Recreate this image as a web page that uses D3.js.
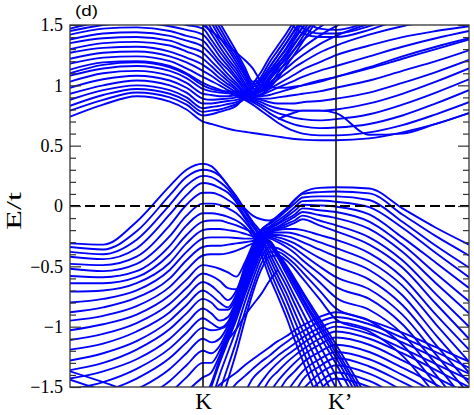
<!DOCTYPE html>
<html>
<head>
<meta charset="utf-8">
<script src="https://cdn.jsdelivr.net/npm/d3@7"></script>
<style>
  body { margin: 0; background: #fff; }
  text { font-family: "Liberation Serif", "Times New Roman", serif; fill: #000; }
</style>
</head>
<body>
<svg id="chart" width="474" height="415"></svg>
<script>
const _ = null;

// k along the path, 0..1 (K at 1/3, K' at 2/3)
const kGrid = [0, 0.083, 0.167, 0.25, 0.292, 0.333, 0.354, 0.375, 0.396, 0.417, 0.438, 0.458,
               0.479, 0.5, 0.521, 0.542, 0.563, 0.583, 0.625, 0.667, 0.75, 0.833, 0.917, 1];

const kPoints = [1 / 3, 2 / 3];
const kLabels = ["K", "K\u2019"];
const yTicks = [-1.5, -1, -0.5, 0, 0.5, 1, 1.5];
const yTickLabels = ["\u22121.5", "\u22121", "\u22120.5", "0", "0.5", "1", "1.5"];

// valence bands peaking at K that run through the crossing below K
const valenceTop = [
  [-0.31,-0.32,-0.13,0.165,0.30,0.35, 0.33,0.26,0.17,0.07,-0.02,-0.08,-0.11, -0.12,-0.09,-0.03,0.05,0.11, 0.15,0.155,0.145,-0.02,-0.18,-0.32],
  [-0.34,-0.36,-0.21,0.09,0.24,0.30, 0.29,0.25,0.17,0.08,-0.03,-0.13,-0.22, -0.35,-0.48,-0.61,-0.75,-0.88, -1.15,-1.41,-1.95,_,_,_],
  [-0.38,-0.40,-0.28,0.01,0.17,0.25, 0.24,0.20,0.14,0.05,-0.05,-0.15,-0.25, -0.39,-0.53,-0.66,-0.81,-0.95, -1.24,-1.51,_,_,_,_],
  [-0.42,-0.44,-0.35,-0.07,0.09,0.19, 0.18,0.15,0.11,0.03,-0.08,-0.17,-0.27, -0.43,-0.58,-0.72,-0.88,-1.03, -1.33,-1.62,_,_,_,_],
  [-0.48,-0.49,-0.42,-0.16,0.01,0.11, 0.11,0.09,0.05,0.00,-0.10,-0.20,-0.31, -0.48,-0.63,-0.78,-0.95,-1.11, -1.43,-1.73,_,_,_,_],
  [-0.52,-0.54,-0.48,-0.25,-0.08,0.02, 0.02,0.01,-0.02,-0.06,-0.13,-0.22,-0.35, -0.53,-0.69,-0.85,-1.03,-1.19, -1.53,-1.85,_,_,_,_],
  [-0.58,-0.59,-0.54,-0.33,-0.16,-0.06, -0.06,-0.07,-0.09,-0.12,-0.17,-0.25,-0.40, -0.59,-0.75,-0.92,-1.11,-1.28, -1.63,-1.97,_,_,_,_],
  [-0.64,-0.64,-0.59,-0.40,-0.24,-0.13, -0.12,-0.12,-0.14,-0.16,-0.19,-0.22,-0.25, -0.32,-0.43,-0.56,-0.69,-0.81, -1.07,-1.31,-1.82,_,_,_],
  [-0.71,-0.70,-0.64,-0.47,-0.31,-0.20, -0.19,-0.19,-0.20,-0.21,-0.23,-0.25,-0.26, -0.30,-0.42,-0.53,-0.66,-0.78, -1.02,-1.26,-1.75,_,_,_],
  [-0.80,-0.77,-0.70,-0.53,-0.38,-0.27, -0.26,-0.26,-0.26,-0.265,-0.27,-0.27,-0.27, -0.29,-0.40,-0.52,-0.64,-0.76, -0.99,-1.22,-1.70,_,_,_],
  [-0.88,-0.84,-0.76,-0.60,-0.45,-0.34, -0.33,-0.33,-0.32,-0.31,-0.30,-0.29,-0.28, -0.29,-0.39,-0.50,-0.62,-0.73, -0.96,-1.19,-1.66,_,_,_],
  [-0.95,-0.91,-0.83,-0.67,-0.53,-0.41, -0.40,-0.40,-0.39,-0.37,-0.34,-0.31,-0.29, -0.30,-0.39,-0.49,-0.60,-0.71, -0.93,-1.15,-1.62,_,_,_]
];

// deeper valence bands: dip, climb through the crossing, then fall past K'
const valenceLow = [
  [-1.03,-0.98,-0.90,-0.74,-0.61,-0.49, -0.50,-0.52,-0.55,-0.585,-0.47,-0.32,-0.20, -0.14,-0.08,-0.02,0.05,0.10, 0.115,0.12,0.105,-0.07,-0.25,-0.41],
  [-1.11,-1.06,-0.97,-0.81,-0.68,-0.56, -0.58,-0.62,-0.68,-0.69,-0.50,-0.34,-0.20, -0.15,-0.10,-0.04,0.02,0.07, 0.08,0.08,0.05,-0.13,-0.33,-0.51],
  [-1.19,-1.14,-1.04,-0.88,-0.75,-0.63, -0.66,-0.72,-0.78,-0.70,-0.52,-0.36,-0.21, -0.17,-0.12,-0.07,-0.01,0.04, 0.045,0.035,-0.01,-0.18,-0.39,-0.59],
  [-1.28,-1.22,-1.12,-0.95,-0.82,-0.70, -0.74,-0.80,-0.84,-0.73,-0.54,-0.38,-0.22, -0.18,-0.14,-0.09,-0.04,0.01, 0.005,-0.005,-0.07,-0.26,-0.47,-0.68],
  [-1.36,-1.30,-1.19,-1.02,-0.89,-0.77, -0.80,-0.86,-0.86,-0.76,-0.57,-0.40,-0.24, -0.19,-0.15,-0.11,-0.07,-0.02, -0.035,-0.05,-0.13,-0.32,-0.56,-0.79],
  [-1.43,-1.37,-1.27,-1.10,-0.97,-0.85, -0.89,-0.95,-0.92,-0.78,-0.59,-0.43,-0.25, -0.20,-0.17,-0.13,-0.09,-0.05, -0.075,-0.10,-0.19,-0.38,-0.64,-0.89],
  [-1.52,-1.46,-1.35,-1.18,-1.05,-0.93, -0.97,-1.01,-0.96,-0.80,-0.61,-0.44,-0.27, -0.21,-0.18,-0.15,-0.12,-0.08, -0.12,-0.16,-0.26,-0.45,-0.73,-1.00],
  [-1.60,-1.54,-1.43,-1.26,-1.13,-1.01, -1.03,-1.02,-0.98,-0.81,-0.63,-0.46,-0.28, -0.22,-0.19,-0.17,-0.14,-0.11, -0.16,-0.21,-0.32,-0.51,-0.81,-1.10],
  [-1.70,-1.63,-1.52,-1.35,-1.22,-1.10, -1.13,-1.10,-0.99,-0.82,-0.64,-0.47,-0.30, -0.22,-0.20,-0.19,-0.19,-0.20, -0.24,-0.28,-0.39,-0.59,-0.90,-1.19],
  [-1.80,-1.73,-1.62,-1.45,-1.32,-1.20, -1.22,-1.16,-1.02,-0.85,-0.66,-0.49,-0.32, -0.23,-0.22,-0.22,-0.23,-0.25, -0.30,-0.35,-0.46,-0.66,-0.98,-1.29],
  [-1.90,-1.83,-1.72,-1.55,-1.42,-1.30, -1.30,-1.20,-1.04,-0.87,-0.68,-0.51,-0.33, -0.24,-0.24,-0.25,-0.27,-0.30, -0.36,-0.42,-0.53,-0.74,-1.07,-1.38],
  [-2.0,-1.93,-1.82,-1.66,-1.54,-1.42, -1.38,-1.24,-1.07,-0.90,-0.70,-0.53,-0.35, -0.25,-0.26,-0.28,-0.31,-0.35, -0.43,-0.50,-0.61,-0.82,-1.15,-1.47],
  [_,_,_,_,-1.75,-1.60, -1.47,-1.27,-1.09,-0.92,-0.72,-0.55,-0.37, -0.26,-0.28,-0.31,-0.35,-0.40, -0.50,-0.59,-0.69,-0.90,-1.23,-1.56],
  [_,_,_,_,-1.85,-1.68, -1.50,-1.30,-1.12,-0.94,-0.74,-0.56,-0.39, -0.27,-0.30,-0.34,-0.39,-0.45, -0.56,-0.67,-0.77,-0.98,-1.31,-1.65],
  [_,_,_,_,_,_, -1.62,-1.40,-1.21,-1.02,-0.80,-0.61,-0.43, -0.34,-0.35,-0.39,-0.44,-0.50, -0.63,-0.76,-0.86,-1.06,-1.40,-1.74],
  [_,_,_,_,_,_, -1.80,-1.54,-1.33,-1.12,-0.88,-0.67,-0.48, -0.38,-0.38,-0.42,-0.48,-0.55, -0.70,-0.85,-0.95,-1.15,-1.48,-1.83],
  [_,_,_,_,_,_, -1.95,-1.68,-1.44,-1.21,-0.95,-0.72,-0.53, -0.42,-0.41,-0.45,-0.52,-0.60, -0.77,-0.94,-1.04,-1.24,-1.57,-1.92]
];

// arcs near K' at the bottom, plus a few short pieces
const valenceBottom = [
  [_,_,_,_,_,_, -1.56,-1.48,-1.43,-1.38,-1.32,-1.27,-1.22, -1.17,-1.12,-1.08,-1.03,-0.99, -0.92,-0.88,-0.95,-1.05,-1.17,-1.29],
  [_,_,_,_,_,_, _,_,-1.56,-1.47,-1.41,-1.35,-1.29, -1.24,-1.18,-1.13,-1.08,-1.04, -0.96,-0.92,-0.98,-1.09,-1.21,-1.34],
  [_,_,_,_,_,_, _,_,_,_,-1.55,-1.43,-1.36, -1.30,-1.24,-1.19,-1.14,-1.09, -1.01,-0.96,-1.02,-1.13,-1.26,-1.39],
  [_,_,_,_,_,_, _,_,_,_,_,-1.56,-1.46, -1.37,-1.30,-1.24,-1.19,-1.14, -1.05,-1.00,-1.06,-1.18,-1.31,-1.44],
  [_,_,_,_,_,_, _,_,_,_,_,_,-1.56, -1.44,-1.37,-1.30,-1.24,-1.19, -1.10,-1.04,-1.10,-1.22,-1.36,-1.50],
  [_,_,_,_,_,_, _,_,_,_,_,_,_, -1.55,-1.45,-1.37,-1.30,-1.24, -1.15,-1.09,-1.15,-1.28,-1.42,-1.56],
  [_,_,_,_,_,_, _,_,_,_,_,_,_, _,-1.55,-1.44,-1.37,-1.30, -1.21,-1.15,-1.21,-1.34,-1.48,-1.62],
  [_,_,_,_,_,_, _,_,_,_,_,_,_, _,_,-1.55,-1.45,-1.37, -1.27,-1.21,-1.27,-1.40,-1.55,_],
  [_,_,_,_,_,_, _,_,_,_,_,_,_, _,_,_,-1.55,-1.44, -1.33,-1.26,-1.33,-1.46,-1.60,_],
  [_,_,_,_,_,_, _,_,_,_,_,_,_, _,_,_,_,-1.52, -1.39,-1.32,-1.39,-1.53,_,_],
  [_,_,_,_,_,_, _,_,_,_,_,_,_, _,_,_,_,-1.60, -1.46,-1.38,-1.45,-1.60,_,_],
  [_,_,_,_,_,_, _,_,_,_,_,_,_, _,_,_,_,_, -1.53,-1.43,-1.50,-1.65,_,_],
  [_,_,_,_,_,_, _,-1.20,-1.11,-1.02,-0.91,-0.82,-0.73, -0.62,-0.53,_,_,_, _,_,_,_,_,_],
  [-1.37,-1.46,-1.56,_,_,_, _,_,_,_,_,_,_, _,_,_,_,_, _,_,_,_,_,_],
  [-1.44,-1.53,_,_,_,_, _,_,_,_,_,_,_, _,_,_,_,_, _,_,_,_,_,_]
];

// lowest conduction band and the bands climbing steeply after K
const conductionLow = [
  [0.74,0.84,0.91,0.865,0.80,0.70, 0.68,0.66,0.64,0.625,0.615,0.605,0.595, 0.585,0.575,0.565,0.555,0.55, 0.545,0.545,0.56,0.61,0.68,0.77],
  [0.79,0.88,0.94,0.90,0.84,0.75, 0.76,0.78,0.80,0.83,0.91,1.01,1.11, 1.23,1.33,1.43,1.54,1.65, _,_,_,_,_,_],
  [0.83,0.92,0.97,0.93,0.87,0.78, 0.79,0.80,0.82,0.845,0.89,0.98,1.07, 1.19,1.29,1.39,1.50,1.60, _,_,_,_,_,_],
  [0.88,0.96,1.00,0.96,0.90,0.81, 0.82,0.83,0.845,0.86,0.895,0.94,1.04, 1.15,1.25,1.35,1.46,1.56, 1.78,_,_,_,_,_],
  [0.93,1.00,1.04,1.00,0.94,0.85, 0.85,0.86,0.87,0.88,0.90,0.93,1.00, 1.11,1.21,1.31,1.42,1.52, 1.73,_,_,_,_,_],
  [0.98,1.05,1.08,1.04,0.98,0.89, 0.88,0.885,0.89,0.90,0.915,0.935,0.96, 1.07,1.17,1.27,1.38,1.48, 1.69,_,_,_,_,_],
  [1.03,1.10,1.12,1.08,1.02,0.93, 0.92,0.91,0.91,0.92,0.93,0.94,0.95, 1.04,1.14,1.24,1.34,1.44, 1.65,_,_,_,_,_],
  [1.08,1.14,1.16,1.12,1.06,0.97, 0.95,0.94,0.935,0.935,0.94,0.945,0.95, 1.00,1.10,1.20,1.30,1.40, 1.61,_,_,_,_,_],
  [1.10,1.17,1.19,1.15,1.09,1.00, 0.97,0.955,0.95,0.95,0.95,0.95,0.955, 0.98,1.06,1.16,1.26,1.36, 1.57,_,_,_,_,_]
];

// upper conduction arches: fall into the crossing, then fan out towards the right
const conductionHigh = [
  [1.13,1.19,1.20,1.16,1.10,1.02, 0.99,0.965,0.94,0.91, 0.88, 0.84,0.79,0.74,0.69,0.65,0.62,0.60, 0.585,0.585,0.61,0.67,0.76,0.86],
  [1.18,1.23,1.24,1.20,1.14,1.07, 1.035,1.00,0.96,0.925, 0.89, 0.86,0.82,0.77,0.73,0.70,0.675,0.66, 0.645,0.65,0.68,0.75,0.85,0.96],
  [1.22,1.27,1.28,1.24,1.19,1.12, 1.08,1.03,0.985,0.94, 0.895, 0.87,0.84,0.80,0.77,0.75,0.73,0.72, 0.71,0.72,0.76,0.84,0.94,1.05],
  [1.27,1.31,1.32,1.28,1.23,1.17, 1.12,1.06,1.01,0.96, 0.90, 0.88,0.86,0.83,0.81,0.80,0.79,0.79, 0.79,0.80,0.85,0.93,1.03,1.14],
  [1.30,1.35,1.36,1.33,1.28,1.22, 1.16,1.095,1.035,0.975, 0.91, 0.89,0.88,0.86,0.85,0.85,0.85,0.86, 0.87,0.89,0.94,1.02,1.11,1.21],
  [1.35,1.39,1.40,1.37,1.32,1.27, 1.20,1.13,1.06,1.00, 0.925, 0.895,0.89,0.89,0.90,0.91,0.92,0.93, 0.95,0.98,1.04,1.12,1.20,1.29],
  [1.38,1.43,1.44,1.41,1.37,1.32, 1.25,1.17,1.09,1.02, 0.94, 0.90,0.91,0.92,0.94,0.96,0.98,1.00, 1.04,1.07,1.14,1.22,1.30,1.38],
  [1.42,1.47,1.48,1.45,1.41,1.37, 1.29,1.20,1.13,1.05, 0.96, 0.91,0.92,0.95,0.98,1.01,1.04,1.07, 1.12,1.16,1.24,1.32,1.39,1.45],
  [1.45,1.50,1.52,1.49,1.46,1.42, 1.34,1.24,1.16,1.07, 0.98, 0.91,0.93,0.97,1.01,1.05,1.09,1.13, 1.19,1.25,1.33,1.40,1.45,1.49],
  [1.47,1.53,1.56,1.53,1.50,1.47, 1.38,1.28,1.19,1.10, 1.00, 0.92,0.95,1.00,1.05,1.10,1.15,1.19, 1.27,1.33,1.42,1.49,1.54,1.58],
  [1.52,1.57,1.60,1.57,1.55,1.52, 1.43,1.32,1.22,1.13, 1.02, 0.93,0.96,1.02,1.08,1.14,1.20,1.25, 1.34,1.41,1.51,1.58,_,_],
  [1.57,1.62,1.65,1.62,1.60,1.57, 1.47,1.36,1.26,1.16, 1.05, 0.95,0.98,1.05,1.12,1.18,1.25,1.31, 1.41,1.49,1.60,_,_,_],
  [_,_,1.70,1.68,1.66,1.62, 1.52,1.40,1.30,1.19, 1.08, 0.97,0.99,1.07,1.15,1.22,1.30,1.37, 1.48,1.57,_,_,_,_],
  [_,_,1.75,1.73,1.71,1.67, 1.56,1.44,1.33,1.22, 1.10, 0.99,1.01,1.10,1.18,1.26,1.35,1.43, 1.55,_,_,_,_,_],
  [_,_,_,_,1.82,1.72, 1.60,1.48,1.36,1.25, 1.12, 1.01,1.03,1.12,1.21,1.30,1.40,1.48, 1.62,_,_,_,_,_],
  [_,_,_,_,1.87,1.77, 1.65,1.52,1.40,1.28, 1.15, 1.03,1.05,1.15,1.25,1.35,1.45,1.54, 1.70,_,_,_,_,_]
];

// isolated conduction lines: edge line from the top of K, arcs near K', small piece at K'
const conductionExtra = [
  [_,_,_,_,1.60,1.50, 1.45,1.39,1.33,1.27,1.21,1.14,1.03, 0.99,0.98,0.98,0.99,1.00, 1.03,1.07,1.15,1.24,1.32,1.39],
  [_,_,_,_,_,_, _,_,_,_,_,_,_, _,_,1.56,1.48,1.43, 1.40,1.40,1.46,1.56,_,_],
  [_,_,_,_,_,_, _,_,_,_,_,_,_, _,_,_,1.56,1.48, 1.43,1.43,1.49,1.60,_,_],
  [_,_,_,_,_,_, _,_,_,_,_,_,_, _,_,_,_,1.55, 1.47,1.46,1.53,_,_,_],
  [_,_,_,_,_,_, _,_,_,_,_,_,_, _,0.72,0.75,0.775,0.79, 0.79,0.77,0.59,0.60,0.68,0.77]
];

const plotL = 70, plotR = 469, plotT = 25, plotB = 387;

const x = d3.scaleLinear().domain([0, 1]).range([plotL, plotR]);
const y = d3.scaleLinear().domain([-1.5, 1.5]).range([plotB, plotT]);

const svg = d3.select("#chart");

svg.append("clipPath").attr("id", "plot")
  .append("rect")
  .attr("x", plotL).attr("y", plotT)
  .attr("width", plotR - plotL).attr("height", plotB - plotT);

const line = d3.line()
  .defined(d => d[1] !== null)
  .x(d => x(d[0]))
  .y(d => y(d[1]))
  .curve(d3.curveMonotoneX);

const bands = [].concat(valenceTop, valenceLow, valenceBottom, conductionLow, conductionHigh, conductionExtra);

svg.append("g")
  .attr("clip-path", "url(#plot)")
  .selectAll("path")
  .data(bands)
  .join("path")
  .attr("d", row => line(kGrid.map((k, i) => [k, row[i]])))
  .attr("fill", "none")
  .attr("stroke", "#0000ff")
  .attr("stroke-width", 1.9);

// Fermi level
svg.append("line")
  .attr("x1", plotL).attr("x2", plotR)
  .attr("y1", y(0)).attr("y2", y(0))
  .attr("stroke", "#000")
  .attr("stroke-width", 2)
  .attr("stroke-dasharray", "10,5");

// K and K' markers
svg.selectAll(".kline")
  .data(kPoints)
  .join("line")
  .attr("class", "kline")
  .attr("x1", d => x(d)).attr("x2", d => x(d))
  .attr("y1", plotT).attr("y2", plotB)
  .attr("stroke", "#000")
  .attr("stroke-width", 1.5);

// y axes, ticks pointing inwards on both sides
const minorTicks = d3.range(-14, 15).map(i => i / 10).filter(v => Math.abs(v * 2 - Math.round(v * 2)) > 1e-6);

function styleAxis(g) {
  g.select(".domain").remove();
  g.selectAll(".tick line").attr("stroke", "#333").attr("stroke-width", 1.2);
}

svg.append("g")
  .attr("transform", `translate(${plotL},0)`)
  .call(d3.axisLeft(y).tickValues(yTicks).tickSize(-11).tickPadding(7)
    .tickFormat((d, i) => yTickLabels[i]))
  .call(styleAxis)
  .selectAll("text")
  .style("font-family", "'Liberation Serif', serif")
  .style("font-size", "18px");

svg.append("g")
  .attr("transform", `translate(${plotL},0)`)
  .call(d3.axisLeft(y).tickValues(minorTicks).tickSize(-6).tickFormat(""))
  .call(styleAxis);

svg.append("g")
  .attr("transform", `translate(${plotR},0)`)
  .call(d3.axisRight(y).tickValues(yTicks).tickSize(-11).tickFormat(""))
  .call(styleAxis);

svg.append("g")
  .attr("transform", `translate(${plotR},0)`)
  .call(d3.axisRight(y).tickValues(minorTicks).tickSize(-6).tickFormat(""))
  .call(styleAxis);

// x axis: only the K / K' labels
svg.append("g")
  .attr("transform", `translate(0,${plotB})`)
  .call(d3.axisBottom(x).tickValues(kPoints).tickSize(0).tickPadding(6)
    .tickFormat((d, i) => kLabels[i]))
  .call(g => g.select(".domain").remove())
  .selectAll("text")
  .attr("dx", (d, i) => i === 1 ? "0.16em" : 0)
  .style("font-family", "'Liberation Serif', serif")
  .style("font-size", "23px");

// frame
svg.append("rect")
  .attr("x", plotL).attr("y", plotT)
  .attr("width", plotR - plotL).attr("height", plotB - plotT)
  .attr("fill", "none")
  .attr("stroke", "#333")
  .attr("stroke-width", 1.3);

svg.append("text")
  .attr("transform", `translate(21,${(plotT + plotB) / 2 + 5}) rotate(-90)`)
  .attr("text-anchor", "middle")
  .attr("textLength", 38)
  .attr("lengthAdjust", "spacingAndGlyphs")
  .style("font-size", "22px")
  .text("E/t");

svg.append("text")
  .attr("x", 75)
  .attr("y", 16)
  .attr("textLength", 23)
  .attr("lengthAdjust", "spacingAndGlyphs")
  .style("font-family", "'Liberation Sans', sans-serif")
  .style("font-size", "15px")
  .text("(d)");
</script>
</body>
</html>
